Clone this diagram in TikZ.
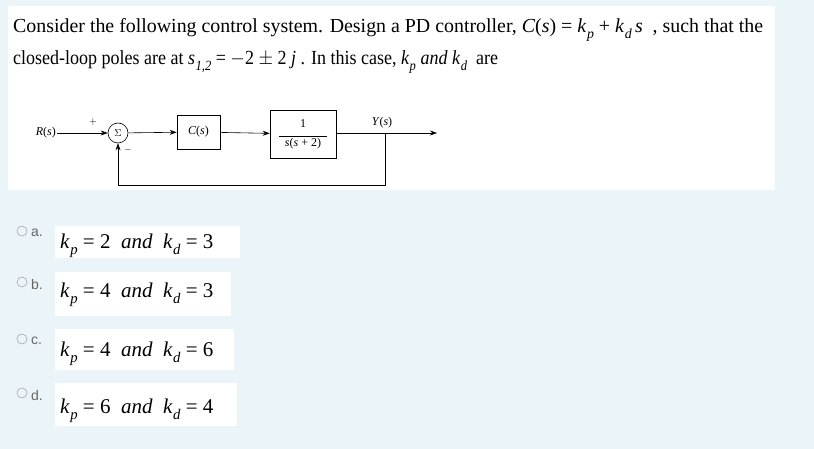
\documentclass[tikz,border=0pt]{standalone}
\usepackage{fontspec}
\setmainfont{Liberation Serif}
\newfontfamily\optfont{Liberation Sans}
\usetikzlibrary{arrows.meta}
\newcommand{\sbs}[2]{\textit{#1}\kern0.5pt\raisebox{-0.3em}{\scalebox{0.7}{\textit{#2}}}}
\tikzset{
  blk/.style={draw,line width=0.6pt,minimum height=34pt,inner sep=2pt},
  conn/.style={line width=0.6pt,-{Stealth[length=7pt,width=5pt]}},
  patch/.style={fill=white,draw=none},
  radio/.style={circle,draw=gray!70,line width=0.6pt,minimum size=10pt,inner sep=0pt},
  optl/.style={font=\optfont\fontsize{14}{14}\selectfont,text=gray!80!black,anchor=west,inner sep=0pt},
  ans/.style={font=\fontsize{21}{21}\selectfont,anchor=base west,inner sep=0pt},
  qtext/.style={font=\fontsize{20}{20}\selectfont,anchor=base west,inner sep=0pt},
  dtext/.style={font=\fontsize{12}{12}\selectfont}
}
\begin{document}
\begin{tikzpicture}[x=1pt,y=-1pt]
\fill[cyan!6!white!95!gray] (0,0) rectangle (814,449);
\useasboundingbox (0,0) rectangle (814,449);
\fill[white] (8,6) rectangle (775,190);
\node[qtext] (q1) at (13,33) {\resizebox{750pt}{!}{Consider the following control system. Design a PD controller, \textit{C}(\textit{s}) = \sbs{k}{p} + \sbs{k}{d}\,\textit{s}~~, such that the}};
\node[qtext] (q2) at (13,65) {\scalebox{0.9}[1]{closed-loop poles are at \sbs{s}{1,2} = $-$2 $\pm$ 2 \textit{j} . In this case, \sbs{k}{p} \textit{and} \sbs{k}{d}~ are}};
% diagram
\node[dtext,anchor=east,inner sep=1pt] (r) at (57,133) {\textit{R}(\textit{s})};
\node[circle,draw,line width=0.6pt,minimum size=20pt,inner sep=0pt,font=\fontsize{10}{10}\selectfont] (sum) at (118,133) {$\Sigma$};
\node[blk,dtext,minimum width=43pt] (c) at (198.5,132) {\textit{C}(\textit{s})};
\node[blk,dtext,minimum width=66pt,minimum height=48pt,align=center] (g) at (303,134) {1\\[-3pt]\rule{48pt}{0.5pt}\\[-2pt]\textit{s}(\textit{s} + 2)};
\coordinate (br) at (385,133);
\coordinate (out) at (437,133);
\coordinate (fb1) at (385,185);
\coordinate (fb2) at (118,185);
\node[dtext] (y) at (382,123) {\textit{Y}(\textit{s})};
\node[font=\fontsize{10}{10}\selectfont] (plus) at (93,122) {$+$};
\node[font=\fontsize{10}{10}\selectfont] (minus) at (128,150) {$-$};
\draw[conn] (r) -- (sum);
\draw[conn] (sum) -- (c);
\draw[conn] (c) -- (g);
\draw[conn] (g.east |- br) -- (out);
\draw[conn] (br) -- (fb1) -- (fb2) -- (sum.south);
% options
\fill[patch] (55,226) rectangle (240,258);
\fill[patch] (55,272) rectangle (231,316);
\fill[patch] (55,329) rectangle (234,370);
\fill[patch] (55,383) rectangle (237,426);
\node[radio] (ra) at (22,231) {};
\node[radio] (rb) at (22,282) {};
\node[radio] (rc) at (22,339) {};
\node[radio] (rd) at (22,393) {};
\node[optl] (la) at (31,233) {a.};
\node[optl] (lb) at (31,284) {b.};
\node[optl] (lc) at (31,341) {c.};
\node[optl] (ld) at (31,395) {d.};
\node[ans] (aa) at (60,248) {\sbs{k}{p} = 2~~\textit{and}~~\sbs{k}{d} = 3};
\node[ans] (ab) at (60,297) {\sbs{k}{p} = 4~~\textit{and}~~\sbs{k}{d} = 3};
\node[ans] (ac) at (60,356) {\sbs{k}{p} = 4~~\textit{and}~~\sbs{k}{d} = 6};
\node[ans] (ad) at (60,413) {\sbs{k}{p} = 6~~\textit{and}~~\sbs{k}{d} = 4};
\end{tikzpicture}
\end{document}
